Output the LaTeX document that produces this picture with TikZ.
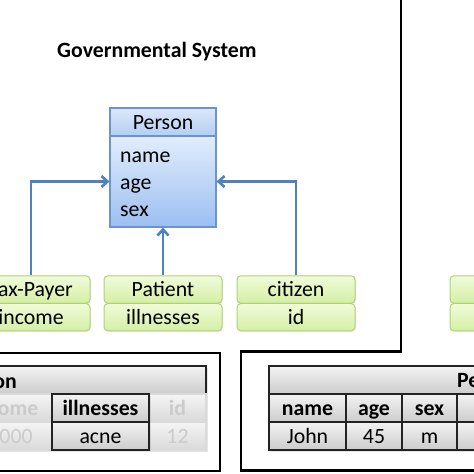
\documentclass[tikz,border=0pt]{standalone}
\usepackage{fontspec}
\setmainfont{Carlito}
\usetikzlibrary{arrows.meta,shadows}
\definecolor{arrowblue}{HTML}{4F81BD}
\definecolor{personedge}{HTML}{6C94CC}
\definecolor{phtop}{HTML}{DCE8F9}
\definecolor{phbot}{HTML}{B3CEF3}
\definecolor{pbtop}{HTML}{E2EDFC}
\definecolor{pbbot}{HTML}{9CBFF1}
\definecolor{greenedge}{HTML}{B0D177}
\definecolor{greentop}{HTML}{F1FBDA}
\definecolor{greenbot}{HTML}{D4EFA4}
\definecolor{celltop}{HTML}{F3F3F3}
\definecolor{cellbot}{HTML}{CCCCCC}
\definecolor{celledge}{HTML}{232323}
\definecolor{fadeedge}{HTML}{DADADA}
\definecolor{fadetext}{HTML}{CBCBCB}
\definecolor{fadetop}{HTML}{F5F5F5}
\definecolor{fadebot}{HTML}{D9D9D9}
\newcommand{\txtsize}{\fontsize{21.8}{26}\selectfont}
\begin{document}
\begin{tikzpicture}[x=1pt,y=-1pt,
  frameline/.style={line width=2.6pt, black},
  txt/.style={inner sep=0pt, font=\txtsize},
  boldtxt/.style={inner sep=0pt, font=\txtsize\bfseries},
  umlhead/.style={draw=personedge, line width=1.2pt, top color=phtop, bottom color=phbot,
    minimum width=106pt, minimum height=28pt, inner sep=0pt, text height=16pt, text depth=2pt, font=\txtsize,
    drop shadow={shadow xshift=1.2pt, shadow yshift=-1.2pt, opacity=0.25}},
  umlbody/.style={draw=personedge, line width=1.2pt, top color=pbtop, bottom color=pbbot,
    minimum width=106pt, minimum height=91pt, inner sep=0pt,
    drop shadow={shadow xshift=1.2pt, shadow yshift=-1.2pt, opacity=0.25}},
  greenbox/.style={draw=greenedge, line width=1pt, rounded corners=4pt, top color=greentop, bottom color=greenbot,
    minimum width=118pt, minimum height=27.5pt, inner sep=0pt, text height=16pt, text depth=2pt, font=\txtsize,
    drop shadow={shadow xshift=0.8pt, shadow yshift=-0.8pt, opacity=0.15}},
  inherit/.style={draw=arrowblue, line width=2.6pt, -{Straight Barb[length=6pt,width=11pt]}},
  cellbox/.style={draw=celledge, line width=1.2pt, top color=celltop, bottom color=cellbot,
    minimum height=28pt, inner sep=0pt, text height=16pt, text depth=2pt, font=\txtsize,
    drop shadow={shadow xshift=1.5pt, shadow yshift=-1.5pt, opacity=0.2}},
  fadecell/.style={cellbox, draw=fadeedge, top color=fadetop, bottom color=fadebot, text=fadetext},
  headcell/.style={cellbox, font=\txtsize\bfseries},
  fadehead/.style={fadecell, font=\txtsize\bfseries}
]
\useasboundingbox (0,0) rectangle (474,474);
\clip (0,0) rectangle (474,474);
\fill[white] (0,0) rectangle (474,474);

% frames
\draw[frameline] (401,-5) -- (401,351.5) -- (241,351.5) -- (241,470.5) -- (480,470.5);
\draw[frameline] (-5,353) -- (220,353) -- (220,471) -- (-5,471);

% title
\node[boldtxt, anchor=base west] (title) at (57,57) {Governmental System};

% Person class
\node[umlhead] (ph) at (163,122) {Person};
\node[umlbody] (pb) at (163,181.5) {};
\node[txt, anchor=base west] (aname) at (120,162) {name};
\node[txt, anchor=base west] (aage) at (120,189) {age};
\node[txt, anchor=base west] (asex) at (120,216) {sex};

% green boxes
\node[greenbox] (tax) at (31,289.5) {Tax-Payer};
\node[greenbox] (taxa) at (31,317.2) {income};
\node[greenbox] (pat) at (163,289.5) {Patient};
\node[greenbox] (pata) at (163,317.2) {illnesses};
\node[greenbox] (cit) at (296,289.5) {citizen};
\node[greenbox] (cita) at (296,317.2) {id};
\node[greenbox] (oth) at (509,289.5) {};
\node[greenbox] (otha) at (509,317.2) {};

% inheritance arrows
\draw[inherit] (tax.north) |- (pb.west);
\draw[inherit] (pat.north) -- (pb.south);
\draw[inherit] (cit.north) |- (pb.east);

% left table
\node[cellbox, minimum width=266pt] (lhead) at (73,380) {};
\node[boldtxt, anchor=base east] (lheadtxt) at (17,388) {Person};
\node[fadehead, minimum width=94pt] (linc) at (5,408) {income};
\node[fadehead, minimum width=57pt] (lid) at (177.5,408) {id};
\node[fadecell, minimum width=94pt] (lincv) at (5,436) {10000};
\node[fadecell, minimum width=57pt] (lidv) at (177.5,436) {12};
\node[headcell, minimum width=97pt] (lill) at (100.5,408) {illnesses};
\node[cellbox, minimum width=97pt] (lillv) at (100.5,436) {acne};

% right table
\node[cellbox, minimum width=260pt] (rhead) at (399,380) {};
\node[boldtxt, anchor=base west] (rheadtxt) at (457,387.5) {Person};
\node[headcell, minimum width=77pt] (rname) at (307.5,408) {name};
\node[headcell, minimum width=56pt] (rage) at (374,408) {age};
\node[headcell, minimum width=55pt] (rsex) at (429.5,408) {sex};
\node[headcell, minimum width=70pt] (rcol) at (492,408) {};
\node[cellbox, minimum width=77pt] (rnamev) at (307.5,436) {John};
\node[cellbox, minimum width=56pt] (ragev) at (374,436) {45};
\node[cellbox, minimum width=55pt] (rsexv) at (429.5,436) {m};
\node[cellbox, minimum width=70pt] (rcolv) at (492,436) {};
\end{tikzpicture}
\end{document}
